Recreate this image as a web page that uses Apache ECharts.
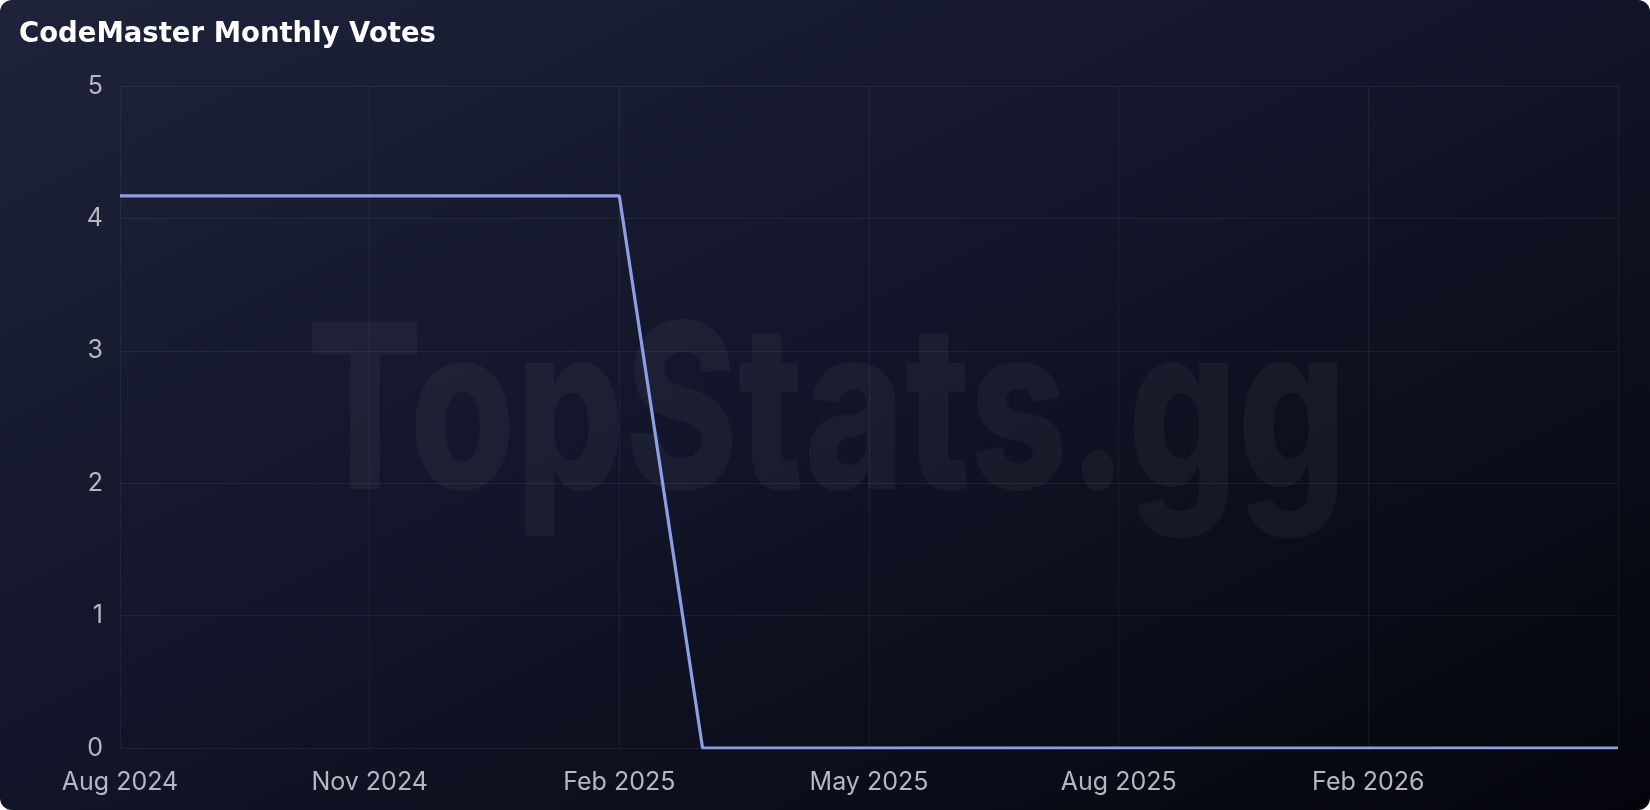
<!DOCTYPE html>
<html lang="en">
<head>
    <meta charset="UTF-8">
    <title>CodeMaster Monthly Votes</title>
    <style>
        html, body { margin: 0; padding: 0; background: #ffffff; }
        #chart {
            width: 1650px;
            height: 810px;
            border-radius: 12px;
            overflow: hidden;
            background: linear-gradient(to bottom right, #1e233a 0%, #121528 50%, #04050b 100%);
        }
    </style>
</head>
<body>
    <div id="chart"></div>
    <script src="https://cdn.jsdelivr.net/npm/echarts@6/dist/echarts.min.js"></script>
    <script>
        // months on the x axis (category axis, the site skips a few months)
        const months = [
            'Aug 2024', 'Sep 2024', 'Oct 2024', 'Nov 2024', 'Dec 2024', 'Jan 2025',
            'Feb 2025', 'Mar 2025', 'Apr 2025', 'May 2025', 'Jun 2025', 'Jul 2025',
            'Aug 2025', 'Dec 2025', 'Jan 2026', 'Feb 2026', 'Mar 2026', 'Apr 2026',
            'May 2026'
        ];
        // votes per month
        const votes = [
            4.17, 4.17, 4.17, 4.17, 4.17, 4.17,
            4.17, 0, 0, 0, 0, 0,
            0, 0, 0, 0, 0, 0,
            0
        ];
        const yTicks = [0, 1, 2, 3, 4, 5];

        const chart = echarts.init(document.getElementById('chart'));

        const gridColor = 'rgba(255,255,255,0.06)';
        const labelColor = '#b5b8c3';

        chart.setOption({
            backgroundColor: 'transparent',
            title: {
                text: 'CodeMaster Monthly Votes',
                left: 14,
                top: 16,
                textStyle: {
                    color: '#ffffff',
                    fontFamily: 'DejaVu Sans',
                    fontWeight: 700,
                    fontSize: 27.5
                }
            },
            graphic: [{
                type: 'text',
                x: 827,
                y: 420,
                scaleX: 0.745,
                z: -10,
                silent: true,
                style: {
                    text: 'TopStats.gg',
                    fill: 'rgba(255,255,255,0.038)',
                    font: '800 230px Inter',
                    align: 'center',
                    verticalAlign: 'middle'
                }
            }],
            grid: {
                left: 120,
                right: 32,
                top: 86,
                bottom: 62
            },
            xAxis: {
                type: 'category',
                data: months,
                boundaryGap: false,
                axisLine: { show: false },
                axisTick: { show: false },
                axisLabel: {
                    color: labelColor,
                    fontFamily: 'Inter',
                    fontSize: 25,
                    margin: 22,
                    interval: function (index) {
                        return index % 3 === 0 && index < months.length - 1;
                    }
                },
                splitLine: {
                    show: true,
                    interval: function (index) { return index % 3 === 0; },
                    lineStyle: { color: gridColor, width: 1 }
                }
            },
            yAxis: {
                type: 'value',
                min: yTicks[0],
                max: yTicks[yTicks.length - 1],
                interval: 1,
                axisLine: { show: false },
                axisTick: { show: false },
                axisLabel: {
                    color: labelColor,
                    fontFamily: 'Inter',
                    fontSize: 25,
                    margin: 17
                },
                splitLine: {
                    lineStyle: { color: gridColor, width: 1 }
                }
            },
            series: [{
                type: 'line',
                data: votes,
                showSymbol: false,
                lineStyle: { color: '#8d9ee6', width: 3.2 },
                itemStyle: { color: '#8d9ee6' }
            }]
        });
    </script>
</body>
</html>
